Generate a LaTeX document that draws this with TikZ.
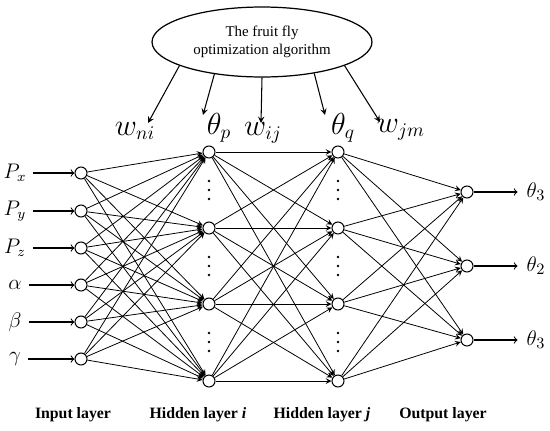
\documentclass[tikz,border=0pt]{standalone}
\usepackage{fontspec}
\setmainfont{Liberation Serif}
\usetikzlibrary{shapes.geometric}
\begin{document}
\begin{tikzpicture}[>=stealth,line join=round,x=0.02cm,y=-0.02cm,
    neuron/.style={circle,draw,fill=white,minimum size=0.24cm,inner sep=0pt,line width=0.6pt},
    link/.style={->,line width=0.45pt},
    feed/.style={->,line width=0.6pt},
    signal/.style={-to,line width=0.6pt,shorten <=0.1cm,shorten >=0.06cm},
    lab/.style={font=\fontsize{12}{14}\selectfont,inner sep=1pt},
    top/.style={font=\fontsize{16}{18}\selectfont,inner sep=0pt},
    layer/.style={font=\fontsize{9}{11}\selectfont\bfseries}]
    \useasboundingbox (0,0) rectangle (550,430);
    % optimizer on top
    \node[ellipse,draw,line width=0.7pt,minimum width=4.4cm,minimum height=1.4cm,inner sep=0pt,
        align=center,font=\fontsize{8.5}{10}\selectfont] (fly) at (262,42) {The fruit fly\\optimization algorithm};
    \coordinate (e1) at (148,123);
    \coordinate (e2) at (203,115);
    \coordinate (e3) at (261,123);
    \coordinate (e4) at (325,115);
    \coordinate (e5) at (380,122);
    \draw[feed] (fly.196)--(e1);
    \draw[feed] (fly.214)--(e2);
    \draw[feed] (fly.270)--(e3);
    \draw[feed] (fly.329)--(e4);
    \draw[feed] (fly.344)--(e5);
    \path (135,131)node[top] (wni){$w_{ni}$}
          (219,128)node[top] (thp){$\theta_p$}
          (263,133)node[top] (wij){$w_{ij}$}
          (343,128)node[top] (thq){$\theta_q$}
          (401,130)node[top] (wjm){$w_{jm}$};
    % input layer
    \path (81,173)node[neuron] (in1){} (81,211)node[neuron] (in2){}
          (81,248)node[neuron] (in3){} (81,285)node[neuron] (in4){}
          (81,322)node[neuron] (in5){} (81,359)node[neuron] (in6){};
    \path (15,173)node[lab] (x1){$P_x$} (15,211)node[lab] (x2){$P_y$}
          (15,248)node[lab] (x3){$P_z$} (15,285)node[lab] (x4){$\alpha$}
          (15,322)node[lab] (x5){$\beta$} (15,359)node[lab] (x6){$\gamma$};
    % hidden layers
    \path (209,152)node[neuron] (hi1){} (209,228)node[neuron] (hi2){}
          (209,304)node[neuron] (hi3){} (209,381)node[neuron] (hi4){};
    \path (338,152)node[neuron] (hj1){} (338,228)node[neuron] (hj2){}
          (338,304)node[neuron] (hj3){} (338,381)node[neuron] (hj4){};
    % output layer
    \path (467,192)node[neuron] (out1){} (467,266)node[neuron] (out2){}
          (467,340)node[neuron] (out3){};
    \path (536,192)node[lab,font=\fontsize{13}{15}\selectfont] (y1){$\theta_3$}
          (536,266)node[lab,font=\fontsize{13}{15}\selectfont] (y2){$\theta_2$}
          (536,340)node[lab,font=\fontsize{13}{15}\selectfont] (y3){$\theta_3$};
    % connections
    \foreach \i in {1,...,6}{
        \draw[signal,shorten >=0pt] (x\i)--(in\i);
        \foreach \j in {1,...,4}
            \draw[link] (in\i)--(hi\j);
    }
    \foreach \i in {1,...,4}
        \foreach \j in {1,...,4}
            \draw[link] (hi\i)--(hj\j);
    \foreach \i in {1,...,4}
        \foreach \j in {1,...,3}
            \draw[link] (hj\i)--(out\j);
    \foreach \j in {1,...,3}
        \draw[signal,shorten <=0pt,shorten >=0.14cm] (out\j)--(y\j);
    % dots between hidden neurons
    \foreach \c in {190,266,342}
        \foreach \d in {-9,0,9}{
            \fill (209,\c+\d) circle (1.3);
            \fill (338,\c+\d) circle (1.3);
        }
    % layer names
    \path (73,415)node[layer] (l1){Input layer}
          (198,415)node[layer] (l2){Hidden layer \textit{i}}
          (322,415)node[layer] (l3){Hidden layer \textit{j}}
          (443,415)node[layer] (l4){Output layer};
\end{tikzpicture}
\end{document}
